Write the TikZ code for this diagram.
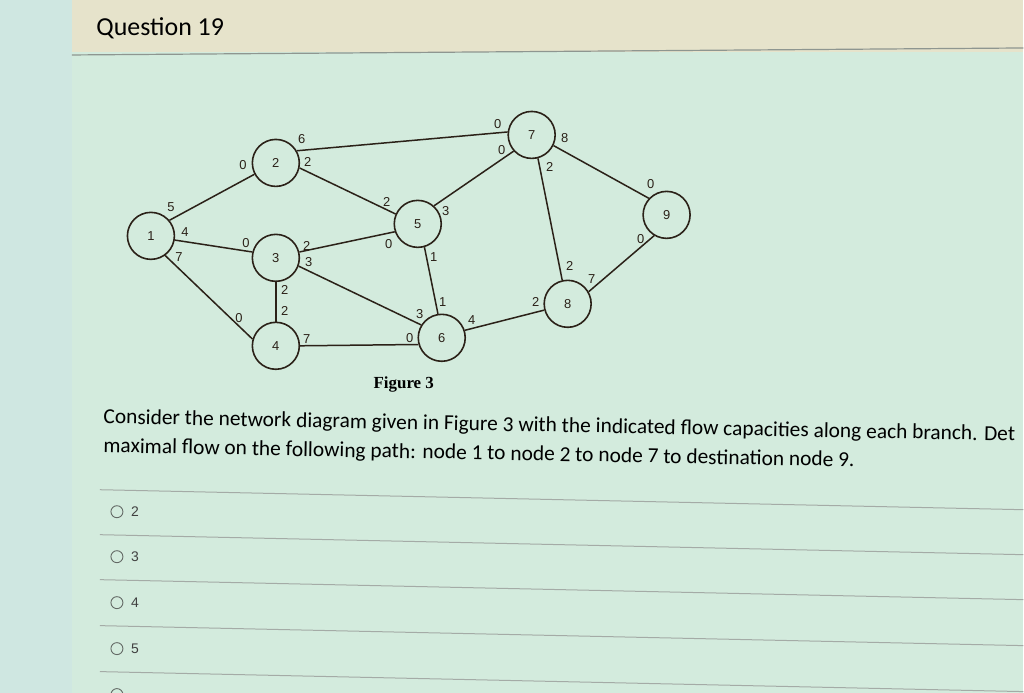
\documentclass[tikz,border=0pt]{standalone}
\usepackage{fontspec}
\setmainfont{Carlito}
\newfontfamily\netfont{Liberation Sans}
\newfontfamily\figfont{Liberation Serif}
\usepackage{tikz}

\definecolor{paper}{HTML}{D3EBDD}
\definecolor{header}{HTML}{E6E3CB}
\definecolor{margin}{HTML}{CFE7E1}
\definecolor{ink}{HTML}{2B2118}
\definecolor{rule}{HTML}{8E9690}

\tikzset{
  vertex/.style={circle,draw=ink,line width=1.6bp,minimum size=47bp,inner sep=0pt,
    text=ink,font=\netfont\fontsize{13}{13}\selectfont},
  capa/.style={draw=none,inner sep=0pt,text=ink,font=\netfont\fontsize{13}{13}\selectfont},
  branch/.style={draw=ink,line width=1.5bp},
  radio/.style={circle,draw=rule!70!black,line width=0.9bp,minimum size=12bp,inner sep=0pt},
  choice/.style={draw=none,inner sep=0pt,anchor=west,text=black!75,font=\netfont\fontsize{14}{14}\selectfont}
}

\begin{document}
\begin{tikzpicture}[x=1bp,y=-1bp]

% page
\fill[paper] (0,0) rectangle (1024,693);
\fill[margin] (0,0) rectangle (72,693);
\fill[header] (72,0) rectangle (1024,52);
\draw[rule,line width=1.2bp] (72,55) -- (1024,48);
\useasboundingbox (0,0) rectangle (1024,693);

\node [draw=none,anchor=west,font=\fontsize{26}{26}\selectfont] (title) at (93,28) {Question 19};

% network
\node [vertex] (n1) at (151,236) {1};
\node [vertex] (n2) at (276,163) {2};
\node [vertex] (n3) at (276,258) {3};
\node [vertex] (n4) at (276,346) {4};
\node [vertex] (n5) at (418,224) {5};
\node [vertex] (n6) at (442,338) {6};
\node [vertex] (n7) at (532,135) {7};
\node [vertex] (n8) at (568,304) {8};
\node [vertex] (n9) at (667,215) {9};

\draw [branch] (n1.40) -- (n2.208);
\draw [branch] (n1.-10) -- (n3.166);
\draw [branch] (n1.-54) -- (n4.164);
\draw [branch] (n2.30) -- (n7.173);
\draw [branch] (n2.-12) -- (n5.156);
\draw [branch] (n3.14) -- (n5.199);
\draw [branch] (n3.south) -- (n4.north);
\draw [branch] (n3.-20) -- (n6.148);
\draw [branch] (n4.east) -- (n6.196);
\draw [branch] (n5.48) -- (n7.222);
\draw [branch] (n5.-74) -- (n6.99);
\draw [branch] (n6.18) -- (n8.195);
\draw [branch] (n7.-75) -- (n8.103);
\draw [branch] (n7.-26) -- (n9.137);
\draw [branch] (n8.30) -- (n9.239);

% capacities
\node [capa] (c12) at (171,207) {5};
\node [capa] (c13) at (185,232) {4};
\node [capa] (c14) at (179,257) {7};
\node [capa] (c21) at (243,165) {0};
\node [capa] (c27) at (302,139) {6};
\node [capa] (c25) at (308,162) {2};
\node [capa] (c31) at (246,243) {0};
\node [capa] (c35) at (307,246) {2};
\node [capa] (c36) at (309,262) {3};
\node [capa] (c34) at (285,290) {2};
\node [capa] (c43) at (285,311) {2};
\node [capa] (c41) at (239,318) {0};
\node [capa] (c46) at (307,339) {7};
\node [capa] (c52) at (387,202) {2};
\node [capa] (c53) at (389,244) {0};
\node [capa] (c57) at (446,211) {3};
\node [capa] (c56) at (434,257) {1};
\node [capa] (c63) at (420,314) {3};
\node [capa] (c65) at (443,302) {1};
\node [capa] (c64) at (410,338) {0};
\node [capa] (c68) at (472,320) {4};
\node [capa] (c72) at (498,124) {0};
\node [capa] (c75) at (502,150) {0};
\node [capa] (c79) at (565,138) {8};
\node [capa] (c78) at (550,167) {2};
\node [capa] (c87) at (570,266) {2};
\node [capa] (c89) at (592,279) {7};
\node [capa] (c86) at (536,302) {2};
\node [capa] (c97) at (651,184) {0};
\node [capa] (c98) at (641,239) {0};

\node [draw=none,font=\figfont\bfseries\fontsize{17}{17}\selectfont] (fig) at (404,385) {Figure 3};

% question text
\node [draw=none,anchor=west,rotate=-1.1,font=\fontsize{21.5}{21.5}\selectfont] (q1) at (100,418)
  {Consider the network diagram given in Figure 3 with the indicated flow capacities along each branch. Det};
\node [draw=none,anchor=west,rotate=-1.1,font=\fontsize{21.5}{21.5}\selectfont] (q2) at (100,447)
  {maximal flow on the following path: node 1 to node 2 to node 7 to destination node 9.};

% answers
\foreach \y in {490,535,580,626,672}{
  \draw[rule!80,line width=1bp] (100,\y) -- (1024,\y+20);
}
\foreach \y/\v in {512/2,557/3,603/4,649/5}{
  \node [radio] (r\v) at (117,\y) {};
  \node [choice] (a\v) at (131,\y) {\v};
}
\node [radio] (r6) at (117,695) {};

\end{tikzpicture}
\end{document}
